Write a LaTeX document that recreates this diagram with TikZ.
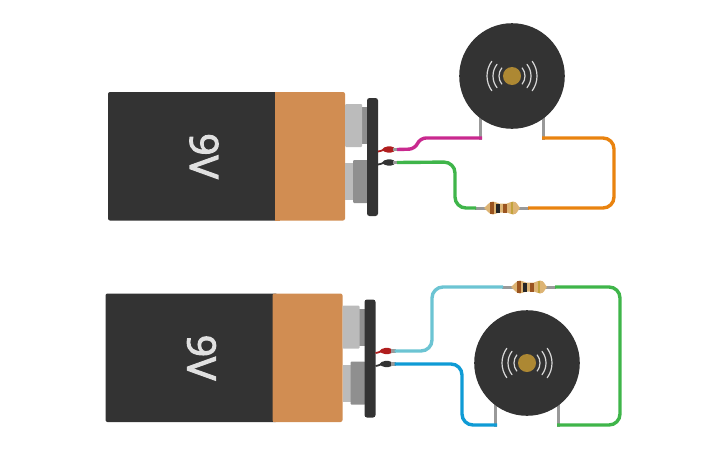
\documentclass[tikz,border=0pt]{standalone}
\usepackage{fontspec}
\setmainfont{Open Sans}
\newfontfamily\ninevfont[FakeBold=3]{Open Sans}
\definecolor{bdark}{HTML}{333333}
\definecolor{bor}{HTML}{D18D52}
\definecolor{lgrey}{HTML}{BBBBBB}
\definecolor{mgrey}{HTML}{8F8F8F}
\definecolor{gold}{HTML}{AD8833}
\definecolor{lead}{HTML}{999999}
\definecolor{wmag}{HTML}{C9298F}
\definecolor{wgreen}{HTML}{3FB54A}
\definecolor{wor}{HTML}{E9830F}
\definecolor{wcy}{HTML}{6CC4D3}
\definecolor{wbl}{HTML}{0F9BD5}
\definecolor{rbody}{HTML}{DDB474}
\definecolor{rbr}{HTML}{9A5420}
\definecolor{rgold}{HTML}{C2A33C}
\definecolor{red1}{HTML}{B01E1E}
\tikzset{
 wirepath/.style={line width=3.4pt,rounded corners=11pt,line cap=butt},
 leadline/.style={draw=lead,line width=3pt},
 pics/battery/.style={code={
  \fill[bdark,rounded corners=2pt] (0,0) rectangle (172,128.5);
  \fill[bor,rounded corners=2pt] (167,0) rectangle (237,128.5);
  \fill[bor] (167,0) rectangle (172,128.5);
  \fill[mgrey] (253,15) rectangle (260,52);
  \fill[lgrey,rounded corners=1pt] (237,12) rectangle (254,55);
  \fill[lgrey] (237,71) rectangle (246,108);
  \fill[mgrey,rounded corners=1pt] (245,68) rectangle (260,111);
  \fill[bdark,rounded corners=2.5pt] (259,6) rectangle (270,124);
  \node[rotate=-90,text=white!88!black,font=\ninevfont\fontsize{39}{39}\selectfont] (-label) at (96,64) {9V};
  \draw[red1,line width=1.8pt] (270,59.5) .. controls (274,59) and (275,57.5) .. (278,57.5);
  \draw[bdark,line width=1.8pt] (270,72.5) .. controls (274,72) and (275,70.5) .. (278,70.5);
  \fill[red1] (274,57.5) .. controls (276,54) and (283,53.5) .. (286,55.5) -- (286,59.5) .. controls (283,61.5) and (276,61) .. (274,57.5);
  \fill[bdark] (274,70.5) .. controls (276,67) and (283,66.5) .. (286,68.5) -- (286,72.5) .. controls (283,74.5) and (276,74) .. (274,70.5);
  \fill[lead] (285,55.8) rectangle (290,59.2);
  \fill[lead] (285,68.8) rectangle (290,72.2);
  \coordinate (-red) at (289,57.5);
  \coordinate (-black) at (289,70.5);
 }},
 pics/buzzer/.style={code={
  \draw[leadline] (-31.5,30) -- (-31.5,63.5);
  \draw[leadline] (31.5,30) -- (31.5,63.5);
  \fill[bdark] (0,0) circle[radius=52.8];
  \fill[gold] (0,0) circle[radius=9];
  \foreach \r/\a in {13/38,19/38,25/36}{
   \draw[white!85!black,line width=1.2pt,line cap=round] (-\a:\r) arc[start angle=-\a,end angle=\a,radius=\r];
   \draw[white!85!black,line width=1.2pt,line cap=round] (180-\a:\r) arc[start angle=180-\a,end angle=180+\a,radius=\r];
  }
  \coordinate (-a) at (-30,62);
  \coordinate (-b) at (30,62);
 }},
 pics/resistor/.style={code={
  \draw[draw=lead,line width=3pt] (-27,0) -- (27,0);
  \fill[rbody] (-18,0) .. controls (-15,-2) and (-13,-6.5) .. (-9,-6.5)
    .. controls (-6,-6.5) and (-5,-4.5) .. (-3,-4.5) -- (5,-4.5)
    .. controls (7,-4.5) and (8,-6.5) .. (11,-6.5)
    .. controls (15,-6.5) and (16,-2) .. (18,0)
    .. controls (16,2) and (15,6.5) .. (11,6.5)
    .. controls (8,6.5) and (7,4.5) .. (5,4.5) -- (-3,4.5)
    .. controls (-5,4.5) and (-6,6.5) .. (-9,6.5)
    .. controls (-13,6.5) and (-15,2) .. (-18,0) -- cycle;
  \fill[rbr] (-12,-6.3) rectangle (-8,6.3);
  \fill[black!85] (-6,-4.5) rectangle (-2.5,4.5);
  \fill[rbr] (1,-4.5) rectangle (4.5,4.5);
  \fill[rgold] (9,-6.3) rectangle (10.5,6.3);
  \coordinate (-l) at (-26,0);
  \coordinate (-r) at (26,0);
 }}
}
\begin{document}
\begin{tikzpicture}[x=1pt,y=-1pt]
\useasboundingbox (0,0) rectangle (725,453);
\pic (batA) at (108,92) {battery};
\pic (batB) at (105.5,293.5) {battery};
\pic (buzA) at (512,76) {buzzer};
\pic (buzB) at (527,363) {buzzer};
\pic (resA) at (502,208) {resistor};
\pic (resB) at (529,287) {resistor};
\draw[wirepath,wmag,rounded corners=6pt] (batA-red) -- (415,149) -- (420,138) -- (buzA-a);
\draw[wirepath,wgreen] (batA-black) -- (455,162) -- (455,208) -- (resA-l);
\draw[wirepath,wor] (resA-r) -- (614,208) -- (614,138) -- (buzA-b);
\draw[wirepath,wcy] (batB-red) -- (432,351) -- (432,287) -- (resB-l);
\draw[wirepath,wbl] (batB-black) -- (462,364) -- (462,425) -- (buzB-a);
\draw[wirepath,wgreen] (resB-r) -- (620,287) -- (620,425) -- (buzB-b);
\end{tikzpicture}
\end{document}
